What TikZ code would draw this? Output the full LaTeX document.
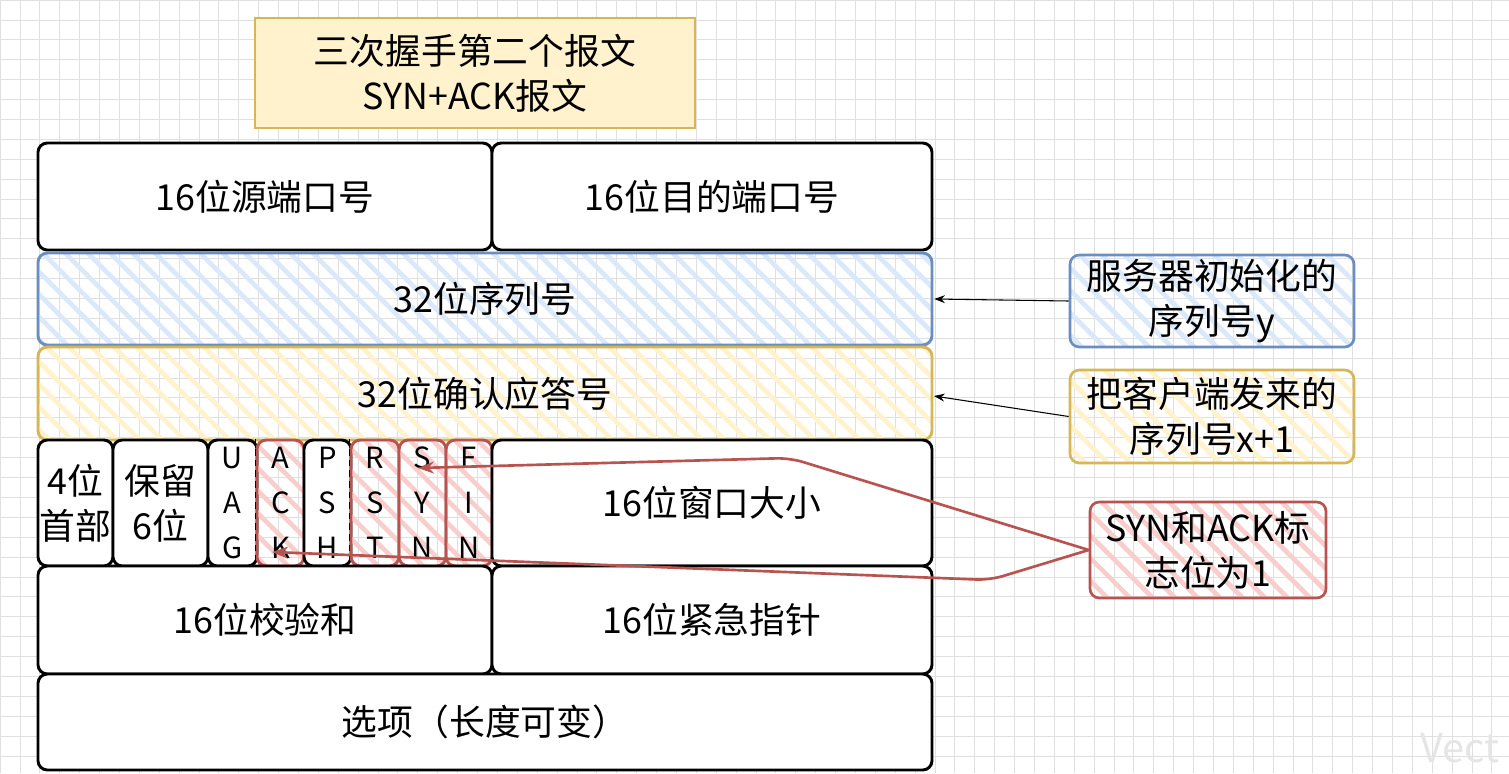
\documentclass[tikz,border=0pt]{standalone}
\usepackage{fontspec}
\setmainfont{Noto Sans CJK SC}
\usetikzlibrary{positioning, fit, arrows.meta, patterns.meta}

\definecolor{blueS}{HTML}{6C8EBF}
\definecolor{blueF}{HTML}{DAE8FC}
\definecolor{yelS}{HTML}{D6B656}
\definecolor{yelF}{HTML}{FFF2CC}
\definecolor{redS}{HTML}{B85450}
\definecolor{redF}{HTML}{F8CECC}

\begin{document}
\begin{tikzpicture}[
    x=0.0265cm, y=-0.0265cm,
    field/.style={rectangle, draw=black, line width=2.2pt, rounded corners=7pt, inner sep=0pt, fill=white},
    txt/.style={align=center, inner sep=0pt, font=\fontsize{27}{34}\selectfont},
    flagtxt/.style={align=center, inner sep=0pt, font=\fontsize{22}{34}\selectfont},
    hatch/.style={pattern={Lines[angle=-45, distance=12pt, line width=3.5pt]}, pattern color=#1},
    bluebox/.style={field, draw=blueS, hatch=blueF},
    yelbox/.style={field, draw=yelS, hatch=yelF},
    redbox/.style={field, draw=redS, hatch=redF},
    arrow/.style={-{Stealth[length=8pt]}, line width=0.8pt},
    redarrow/.style={-{Stealth[length=12pt]}, line width=2pt, draw=redS}
]
\useasboundingbox (0,0) rectangle (1509,773);
\fill[white] (0,0) rectangle (1509,773);
\draw[black!12, line width=0.5pt, step=15pt] (0,0) grid (1509,773);

% Title
\node[field, draw=yelS, fill=yelF, rounded corners=0pt, line width=1pt, fit={(255,18) (695,128)}] (title) {};
\node[txt] at (title.center) {三次握手第二个报文\\SYN+ACK报文};

% Header rows
\node[field, fit={(38,143) (492,250)}] (srcport) {};
\node[field, fit={(492,143) (932,250)}] (dstport) {};
\node[bluebox, fit={(38,253) (932,345)}] (seq) {};
\node[yelbox, fit={(38,347) (932,440)}] (ack) {};
\node[txt] at (srcport.center) {16位源端口号};
\node[txt] at (dstport.center) {16位目的端口号};
\node[txt] at (seq.center) {32位序列号};
\node[txt] at (ack.center) {32位确认应答号};

% Flags row
\node[field, fit={(38,440) (113,566)}] (hlen) {};
\node[field, fit={(113,440) (208,566)}] (rsv) {};
\node[field, fit={(208,440) (257,566)}] (urg) {};
\node[redbox, fit={(257,440) (304,566)}] (fack) {};
\node[field, fit={(304,440) (351,566)}] (psh) {};
\node[redbox, fit={(351,440) (399,566)}] (rst) {};
\node[redbox, fit={(399,440) (446,566)}] (syn) {};
\node[redbox, fit={(446,440) (492,566)}] (fin) {};
\node[field, fit={(492,440) (932,566)}] (win) {};
\draw[line width=1.2pt, dash pattern=on 5pt off 3pt] (fack.north west) -- (fack.south west);
\draw[line width=1.2pt, dash pattern=on 5pt off 3pt] (rst.north west) -- (rst.south west);
\node[txt] at (hlen.center) {4位\\首部};
\node[txt] at (rsv.center) {保留\\6位};
\foreach \f/\t in {urg/U\\A\\G, fack/A\\C\\K, psh/P\\S\\H, rst/R\\S\\T, syn/S\\Y\\N, fin/F\\I\\N}
  \node[flagtxt] at (\f.center) {\t};
\node[txt] at (win.center) {16位窗口大小};

\node[field, fit={(38,566) (492,674)}] (csum) {};
\node[field, fit={(492,566) (932,674)}] (urgp) {};
\node[field, fit={(38,674) (932,770)}] (opt) {};
\node[txt] at (csum.center) {16位校验和};
\node[txt] at (urgp.center) {16位紧急指针};
\node[txt] at (opt.center) {选项（长度可变）};

% Notes
\node[bluebox, line width=2pt, fit={(1070,255) (1354,347)}] (noteseq) {};
\node[yelbox, line width=2pt, fit={(1070,370) (1354,463)}] (noteack) {};
\node[redbox, line width=2pt, fit={(1090,502) (1326,598)}] (noteflag) {};
\node[txt] at (noteseq.center) {服务器初始化的\\序列号y};
\node[txt] at (noteack.center) {把客户端发来的\\序列号x+1};
\node[txt] at (noteflag.center) {SYN和ACK标\\志位为1};

\coordinate (synpt) at (418,468);
\coordinate (ackpt) at (272,552);

% Connections
\draw[arrow] (noteseq.west) -- (seq.east);
\draw[arrow] (noteack.west) -- (934,396);
\draw[redarrow, rounded corners=10pt] (noteflag.west) -- (790,458) -- (synpt);
\draw[redarrow, rounded corners=10pt] (noteflag.west) -- (990,580) -- (ackpt);

\node[black!10, font=\fontsize{30}{30}\selectfont] (mark) at (1460,748) {Vect};
\end{tikzpicture}
\end{document}
